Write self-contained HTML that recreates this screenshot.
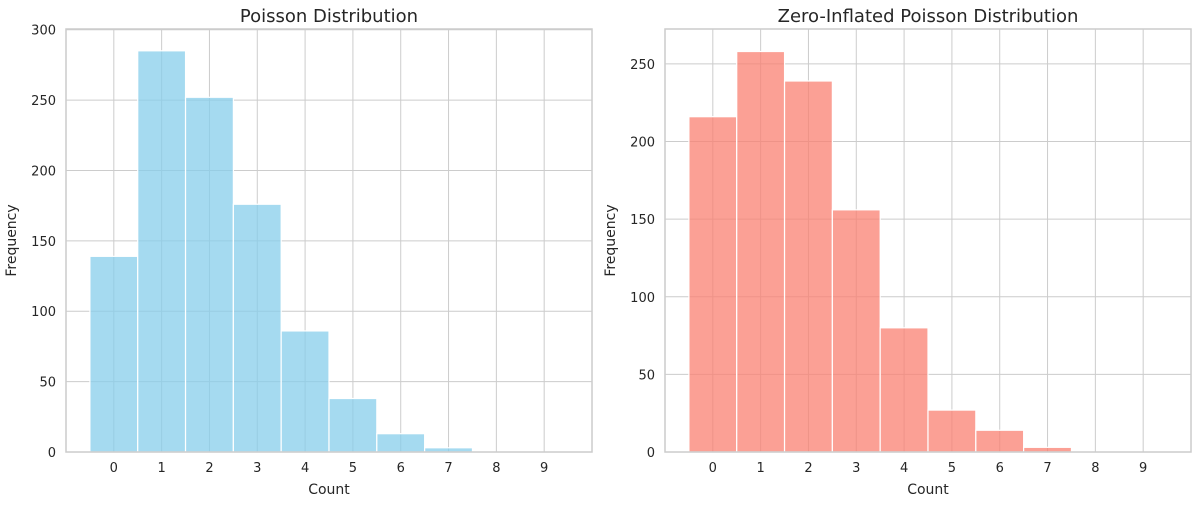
<!DOCTYPE html>
<html><head><meta charset="utf-8"><style>
body{margin:0;background:#fff;font-family:"Liberation Sans","DejaVu Sans",sans-serif}
text{font-family:"DejaVu Sans","Liberation Sans",sans-serif;fill:#262626}
</style></head><body>
<svg id="c" width="1200" height="506" xmlns="http://www.w3.org/2000/svg"></svg>
<script>
const categories = [0,1,2,3,4,5,6,7,8,9];
const poissonValues = [139,285,252,176,86,38,13,3,0,0];
const zipValues = [216,258,239,156,80,27,14,3,0,0];
const poissonYTicks = [0,50,100,150,200,250,300];
const zipYTicks = [0,50,100,150,200,250];
const svg = document.getElementById('c');
const NS = 'http://www.w3.org/2000/svg';
function mk(tag, attrs, parent){const e=document.createElementNS(NS,tag);for(const k in attrs)e.setAttribute(k,attrs[k]);(parent||svg).appendChild(e);return e;}
function panel(cfg){
  const g = mk('g',{});
  
  
  const x = v => cfg.left + (v - (-1)) / 11 * (cfg.right - cfg.left);
  const y = v => cfg.bottom - v / cfg.ymax * (cfg.bottom - cfg.top);
  // grid
  cfg.yticks.forEach(t=>{
    const l = mk('line',{x1:cfg.left,x2:cfg.right,y1:y(t),y2:y(t),stroke:'#cccccc','stroke-width':1},g);
    
    
    const tx = mk('text',{x:cfg.left-10,y:y(t)+5,'text-anchor':'end','font-size':13},g);
    tx.textContent = t;
    
    
  });
  categories.forEach(c=>{
    const l = mk('line',{x1:x(c),x2:x(c),y1:cfg.top,y2:cfg.bottom,stroke:'#cccccc','stroke-width':1},g);
    
    
    const tx = mk('text',{x:x(c),y:cfg.bottom+20,'text-anchor':'middle','font-size':13},g);
    tx.textContent = c;
    
    
  });
  // bars
  cfg.values.forEach((v,i)=>{
    if(v<=0) return;
    const c = categories[i];
    const r = mk('rect',{x:x(c-0.5),y:y(v),width:x(c+0.5)-x(c-0.5),height:y(0)-y(v),fill:cfg.color,'fill-opacity':0.75,stroke:'#ffffff','stroke-width':1.2},g);
    
    
  });
  const fr = mk('rect',{x:cfg.left,y:cfg.top,width:cfg.right-cfg.left,height:cfg.bottom-cfg.top,fill:'none',stroke:'#cccccc','stroke-width':1.5},g);
  
  
  const ti = mk('text',{x:(cfg.left+cfg.right)/2,y:cfg.top-7,'text-anchor':'middle','font-size':18},g);
  ti.textContent = cfg.title;
  
  
  const xl = mk('text',{x:(cfg.left+cfg.right)/2,y:cfg.bottom+42,'text-anchor':'middle','font-size':14},g);
  xl.textContent = 'Count';
  
  
  const yx = cfg.left-50, yy=(cfg.top+cfg.bottom)/2;
  const yl = mk('text',{x:yx,y:yy,'text-anchor':'middle','font-size':14,transform:`rotate(-90 ${yx} ${yy})`},g);
  yl.textContent = 'Frequency';
  
  
}
panel({name:'poisson-panel',left:66,right:592,top:29,bottom:452,ymax:300.5,yticks:poissonYTicks,values:poissonValues,color:'#87CEEB',title:'Poisson Distribution'});
panel({name:'zip-panel',left:665,right:1191,top:29,bottom:452,ymax:272.5,yticks:zipYTicks,values:zipValues,color:'#FA8072',title:'Zero-Inflated Poisson Distribution'});
</script>
</body></html>
